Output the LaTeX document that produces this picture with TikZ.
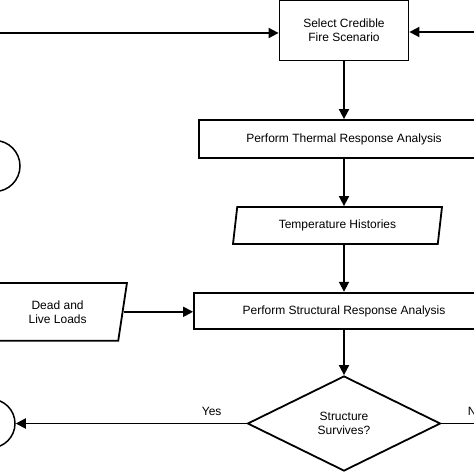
\documentclass[tikz,border=0pt]{standalone}
\usepackage{fontspec}
\setmainfont{Liberation Sans}
\usetikzlibrary{shapes.geometric,arrows.meta}
\begin{document}
\begin{tikzpicture}[x=1pt,y=-1pt,
  every node/.style={font=\fontsize{12}{14}\selectfont, align=center},
  box/.style={draw, line width=1.8pt, rectangle, inner sep=0pt},
  iobox/.style={draw, line width=1.8pt, trapezium, trapezium stretches body, inner sep=0pt},
  decision/.style={draw, line width=1.8pt, diamond, inner sep=0pt},
  endc/.style={draw, line width=1.5pt, circle, inner sep=0pt},
  arr/.style={line width=1.8pt, -{Triangle[length=10pt,width=10pt]}},
  lab/.style={inner sep=0pt}
]
\useasboundingbox (0,0) rectangle (474,474);
\clip (0,0) rectangle (474,474);

\node[box, minimum width=129pt, minimum height=60pt] (sel) at (344,30.5) {Select Credible\\Fire Scenario};
\node[box, minimum width=290pt, minimum height=38pt] (therm) at (344,139) {Perform Thermal Response Analysis};
\node[iobox, trapezium left angle=69.3, trapezium right angle=110.7, minimum width=209pt, minimum height=37pt] (temp) at (337.5,225.5) {Temperature Histories};
\node[box, minimum width=300pt, minimum height=36.6pt] (struct) at (344,311) {Perform Structural Response Analysis};
\node[iobox, trapezium left angle=69.1, trapezium right angle=110.9, minimum width=138.7pt, minimum height=57.7pt] (loads) at (57.6,311.8) {Dead and\\Live Loads};
\node[decision, minimum width=193pt, minimum height=95pt] (dec) at (344,423.5) {Structure\\Survives?};
\node[endc, minimum size=48.8pt] (yesend) at (-9.4,423.5) {};
\node[endc, minimum size=51.2pt] (topc) at (-5.6,166) {};

\coordinate (inL) at (-5,33);
\coordinate (inR) at (480,32);
\coordinate (noEnd) at (480,423.5);

\draw[arr] (inL) -- (inL -| sel.west);
\draw[arr] (inR) -- (inR -| sel.east);
\draw[arr] (sel.south) -- (sel.south |- therm.north);
\draw[arr] (therm.south) -- (therm.south |- temp.north);
\draw[arr] (temp.south -| struct.north) -- (struct.north);
\draw[arr] (loads.east) -- (loads.east -| struct.west);
\draw[arr] (struct.south) -- (dec.north);
\draw[arr] (dec.west) -- (yesend.east);
\draw[line width=1.8pt] (dec.east) -- (noEnd);

\node[lab] (yes) at (211.7,411.7) {Yes};
\node[lab, anchor=west] (no) at (467.7,411.7) {No};
\end{tikzpicture}
\end{document}
